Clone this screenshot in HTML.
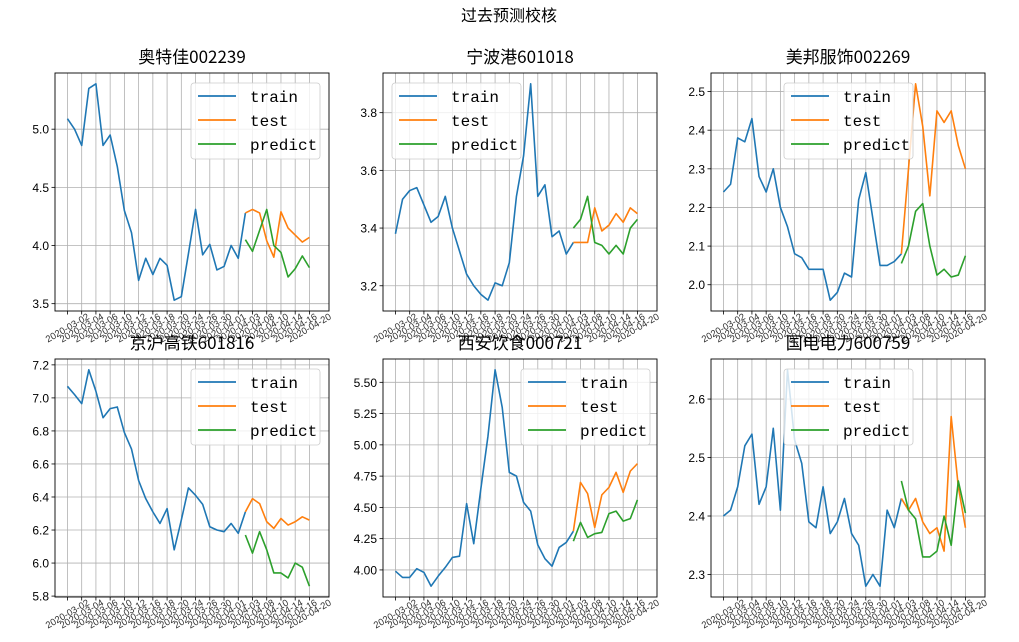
<!DOCTYPE html>
<html><head><meta charset="utf-8"><style>
html,body{margin:0;padding:0;background:#fff;}
svg{display:block;font-family:"Liberation Sans","WenQuanYi Zen Hei",sans-serif;}
</style></head><body>
<svg id="chart" width="1019" height="642" viewBox="0 0 1019 642" xmlns="http://www.w3.org/2000/svg">
<text x="509" y="21" font-size="16" text-anchor="middle" font-family="'WenQuanYi Zen Hei','Noto Sans CJK SC',sans-serif">过去预测校核</text>
</svg>
<script>
const tickLabels = ["2020-03-02","2020-03-04","2020-03-06","2020-03-10","2020-03-12","2020-03-16","2020-03-18","2020-03-20","2020-03-24","2020-03-26","2020-03-30","2020-04-01","2020-04-03","2020-04-08","2020-04-10","2020-04-14","2020-04-16","2020-04-20"];
const titles = ["奥特佳002239","宁波港601018","美邦服饰002269","京沪高铁601816","西安饮食000721","国电电力600759"];
const train1 = [5.09,5.0,4.86,5.35,5.39,4.86,4.95,4.68,4.30,4.11,3.70,3.89,3.75,3.89,3.83,3.53,3.56,3.93,4.31,3.92,4.01,3.79,3.82,4.00,3.89,4.28];
const test1 = [4.28,4.31,4.28,4.04,3.90,4.29,4.15,4.09,4.03,4.07];
const pred1 = [4.05,3.95,4.13,4.31,4.00,3.94,3.73,3.80,3.91,3.81];
const train2 = [3.38,3.50,3.53,3.54,3.48,3.42,3.44,3.51,3.40,3.32,3.24,3.20,3.17,3.15,3.21,3.20,3.28,3.51,3.65,3.90,3.51,3.55,3.37,3.39,3.31,3.35];
const test2 = [3.35,3.35,3.35,3.47,3.39,3.41,3.45,3.42,3.47,3.45];
const pred2 = [3.40,3.43,3.51,3.35,3.34,3.31,3.34,3.31,3.40,3.43];
const train3 = [2.24,2.26,2.38,2.37,2.43,2.28,2.24,2.30,2.20,2.15,2.08,2.07,2.04,2.04,2.04,1.96,1.98,2.03,2.02,2.22,2.29,2.17,2.05,2.05,2.06,2.08];
const test3 = [2.08,2.30,2.52,2.41,2.23,2.45,2.42,2.45,2.36,2.30];
const pred3 = [2.055,2.10,2.19,2.21,2.10,2.025,2.04,2.02,2.025,2.075];
const train4 = [7.07,7.02,6.965,7.17,7.04,6.88,6.935,6.945,6.79,6.69,6.50,6.39,6.31,6.24,6.33,6.08,6.26,6.455,6.41,6.355,6.22,6.20,6.19,6.24,6.18,6.31];
const test4 = [6.31,6.39,6.36,6.25,6.21,6.27,6.23,6.25,6.28,6.26];
const pred4 = [6.17,6.06,6.19,6.08,5.94,5.94,5.91,6.00,5.975,5.86];
const train5 = [3.99,3.94,3.94,4.01,3.98,3.87,3.95,4.02,4.10,4.11,4.53,4.21,4.65,5.07,5.60,5.30,4.78,4.75,4.54,4.47,4.20,4.09,4.03,4.18,4.22,4.31];
const test5 = [4.31,4.70,4.61,4.34,4.60,4.66,4.78,4.62,4.79,4.85];
const pred5 = [4.23,4.38,4.26,4.29,4.30,4.45,4.47,4.39,4.41,4.56];
const train6 = [2.40,2.41,2.45,2.52,2.54,2.42,2.45,2.55,2.41,2.65,2.53,2.49,2.39,2.38,2.45,2.37,2.39,2.43,2.37,2.35,2.28,2.30,2.28,2.41,2.38,2.43];
const test6 = [2.43,2.41,2.43,2.39,2.37,2.38,2.34,2.57,2.45,2.38];
const pred6 = [2.46,2.41,2.395,2.33,2.33,2.34,2.40,2.35,2.46,2.405];
const yTicks1 = [3.5,4.0,4.5,5.0];
const yTicks2 = [3.2,3.4,3.6,3.8];
const yTicks3 = [2.0,2.1,2.2,2.3,2.4,2.5];
const yTicks4 = [5.8,6.0,6.2,6.4,6.6,6.8,7.0,7.2];
const yTicks5 = [4.00,4.25,4.50,4.75,5.00,5.25,5.50];
const yTicks6 = [2.3,2.4,2.5,2.6];

const svg = document.getElementById('chart');
const NS = 'http://www.w3.org/2000/svg';
function mk(tag, attrs, parent){const e=document.createElementNS(NS,tag);for(const k in attrs)e.setAttribute(k,attrs[k]);(parent||svg).appendChild(e);return e;}

const panels = [
 {L:55,T:73,train:train1,test:test1,pred:pred1,yt:yTicks1,dec:1,leg:191},
 {L:383,T:73,train:train2,test:test2,pred:pred2,yt:yTicks2,dec:1,leg:392},
 {L:711,T:73,train:train3,test:test3,pred:pred3,yt:yTicks3,dec:1,leg:784},
 {L:55,T:359,train:train4,test:test4,pred:pred4,yt:yTicks4,dec:1,leg:191},
 {L:383,T:359,train:train5,test:test5,pred:pred5,yt:yTicks5,dec:2,leg:521},
 {L:711,T:359,train:train6,test:test6,pred:pred6,yt:yTicks6,dec:1,leg:784}
];
const W=274,H=238;
const colors={train:'#1f77b4',test:'#ff7f0e',predict:'#2ca02c'};

panels.forEach((p,pi)=>{
  const g=mk('g',{});
  
  
  const n=p.train.length+p.test.length-1;
  const all=p.train.concat(p.test,p.pred);
  const mn=Math.min(...all), mx=Math.max(...all), r=mx-mn;
  const y0=mn-0.05*r, y1=mx+0.05*r;
  const xm=0.05*n;
  const xs=i=>p.L+(i+xm)/(n+2*xm)*W;
  const ys=v=>p.T+H-(v-y0)/(y1-y0)*H;
  p.yt.forEach(v=>{
    const y=ys(v);
    const gl=mk('line',{x1:p.L,x2:p.L+W,y1:y,y2:y,stroke:'#b0b0b0','stroke-width':0.8},g);
    
    
    mk('line',{x1:p.L-3.5,x2:p.L,y1:y,y2:y,stroke:'#000','stroke-width':0.8},g);
    const tl=mk('text',{x:p.L-6,y:y+4.5,'font-size':12,'text-anchor':'end',fill:'#000'},g);
    
    
    tl.textContent=v.toFixed(p.dec);
  });
  tickLabels.forEach((lab,k)=>{
    const x=xs(k*2);
    const gl=mk('line',{x1:x,x2:x,y1:p.T,y2:p.T+H,stroke:'#b0b0b0','stroke-width':0.8},g);
    
    
    mk('line',{x1:x,x2:x,y1:p.T+H,y2:p.T+H+3.5,stroke:'#000','stroke-width':0.8},g);
    const cy=p.T+H+17;
    const tl=mk('text',{x:x,y:cy+3,'font-size':9.5,'text-anchor':'middle',fill:'#333',transform:`rotate(-30 ${x} ${cy})`},g);
    
    
    tl.textContent=lab;
  });
  const t=mk('text',{x:p.L+W/2,y:p.T-10,'font-size':17,'text-anchor':'middle','font-family':"'WenQuanYi Zen Hei','Noto Sans CJK SC',sans-serif"},g);
  
  
  t.textContent=titles[pi];
  const off=p.train.length-1;
  [['train',p.train,0],['test',p.test,off],['predict',p.pred,off]].forEach(([nm,arr,o])=>{
    const pts=arr.map((v,i)=>xs(i+o).toFixed(2)+','+ys(v).toFixed(2)).join(' ');
    const pl=mk('polyline',{points:pts,fill:'none',stroke:colors[nm],'stroke-width':1.6,'stroke-linejoin':'round'},g);
    
    
  });
  const fr=mk('rect',{x:p.L,y:p.T,width:W,height:H,fill:'none',stroke:'#000','stroke-width':0.9},g);
  
  
  const lg=mk('g',{},g);
  
  
  const lx=p.leg, ly=p.T+10;
  mk('rect',{x:lx,y:ly,width:129,height:76,rx:3,fill:'#fff','fill-opacity':0.8,stroke:'#ccc','stroke-width':0.8},lg);
  ['train','test','predict'].forEach((nm,k)=>{
    const yy=ly+13+k*24;
    const ent=mk('g',{},lg);
    
    
    mk('line',{x1:lx+7,x2:lx+45,y1:yy,y2:yy,stroke:colors[nm],'stroke-width':1.8},ent);
    const tx=mk('text',{x:lx+59,y:yy+6,'font-size':16,fill:'#000','font-family':"'Liberation Mono',monospace"},ent);
    tx.textContent=nm;
  });
});
</script>
</body></html>
